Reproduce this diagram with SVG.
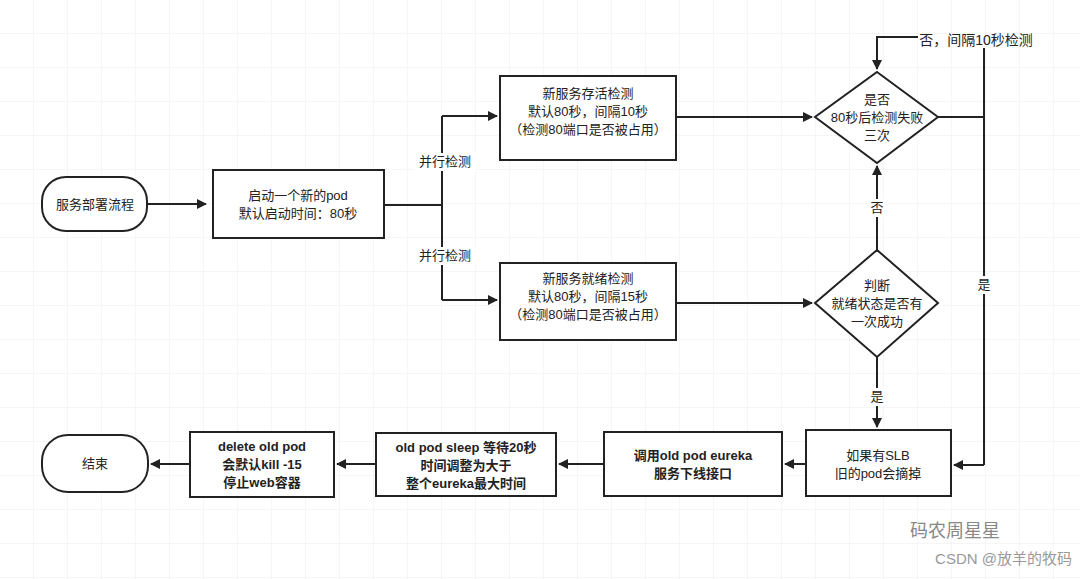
<svg xmlns="http://www.w3.org/2000/svg" width="1080" height="579" viewBox="0 0 1080 579">
<defs>
<pattern id="grid" width="34" height="34" patternUnits="userSpaceOnUse"><path d="M34 0V34H0" fill="none" stroke="#ececec" stroke-width="1"/></pattern>
<marker id="ar" viewBox="0 0 10 10" refX="9" refY="5" markerWidth="5" markerHeight="5" orient="auto"><path d="M0 0L10 5L0 10z" fill="#222"/></marker>
</defs>
<style>
.n{fill:#fff;stroke:#222;stroke-width:2}
.t{font-family:"Liberation Sans","Noto Sans CJK SC",sans-serif;font-size:13px;fill:#222;text-anchor:middle}
.b{font-weight:bold}
.c{fill:none;stroke:#222;stroke-width:2}
.a{marker-end:url(#ar)}
.l{font-family:"Liberation Sans","Noto Sans CJK SC",sans-serif;font-size:13px;fill:#222;text-anchor:middle}
</style>
<rect width="1080" height="579" fill="#fff"/>
<rect width="1080" height="579" fill="url(#grid)"/>
<g id="connectors">
<path class="c a" d="M147 204H206"/>
<path class="c" d="M384 205H442M442 116V300"/>
<path class="c a" d="M442 116H497"/>
<path class="c a" d="M442 300H497"/>
<path class="c a" d="M676 117H812"/>
<path class="c a" d="M676 303H812"/>
<path class="c a" d="M877 250V166"/>
<path class="c a" d="M877 357V427"/>
<path class="c" d="M938 117H984M984 48V465"/>
<path class="c a" d="M984 465H954"/>
<path class="c a" d="M918 37H877V69"/>
<path class="c a" d="M806 464H785"/>
<path class="c a" d="M604 464H559"/>
<path class="c a" d="M376 464H337"/>
<path class="c a" d="M190 464H151"/>
<rect x="414" y="153" width="62" height="18" fill="#fff"/>
<text class="l" x="445" y="166">并行检测</text>
<rect x="414" y="247" width="62" height="18" fill="#fff"/>
<text class="l" x="445" y="260">并行检测</text>
<rect x="868" y="199" width="18" height="18" fill="#fff"/>
<text class="l" x="877" y="212">否</text>
<rect x="868" y="388" width="18" height="18" fill="#fff"/>
<text class="l" x="877" y="401">是</text>
<rect x="975" y="276" width="18" height="18" fill="#fff"/>
<text class="l" x="984" y="289">是</text>
<text class="l" x="976" y="45" style="font-size:14px">否，间隔10秒检测</text>
</g>
<g id="start"><rect class="n" x="42" y="177" width="105" height="54" rx="24"/><text class="t" x="95" y="209">服务部署流程</text></g>
<g id="newpod"><rect class="n" x="213" y="170" width="171" height="68"/><text class="t" x="298" y="200">启动一个新的pod</text><text class="t" x="298" y="218">默认启动时间：80秒</text></g>
<g id="live"><rect class="n" x="500" y="76" width="176" height="84"/><text class="t" x="588" y="98">新服务存活检测</text><text class="t" x="588" y="116">默认80秒，间隔10秒</text><text class="t" x="588" y="134">（检测80端口是否被占用）</text></g>
<g id="ready"><rect class="n" x="500" y="263" width="176" height="77"/><text class="t" x="588" y="283">新服务就绪检测</text><text class="t" x="588" y="301">默认80秒，间隔15秒</text><text class="t" x="588" y="319">（检测80端口是否被占用）</text></g>
<g id="d1"><path class="n" d="M877 72L938 117L877 163L815 117Z"/><text class="t" x="877" y="104">是否</text><text class="t" x="877" y="122">80秒后检测失败</text><text class="t" x="877" y="140">三次</text></g>
<g id="d2"><path class="n" d="M877 250L938 303L877 357L815 303Z"/><text class="t" x="877" y="290">判断</text><text class="t" x="877" y="308">就绪状态是否有</text><text class="t" x="877" y="326">一次成功</text></g>
<g id="slb"><rect class="n" x="806" y="430" width="145" height="66"/><text class="t" x="878" y="460">如果有SLB</text><text class="t" x="878" y="478">旧的pod会摘掉</text></g>
<g id="eureka"><rect class="n" x="604" y="432" width="178" height="64"/><text class="t b" x="693" y="460">调用old pod eureka</text><text class="t b" x="693" y="478">服务下线接口</text></g>
<g id="sleep"><rect class="n" x="376" y="433" width="180" height="63"/><text class="t b" x="466" y="452">old pod sleep 等待20秒</text><text class="t b" x="466" y="470">时间调整为大于</text><text class="t b" x="466" y="488">整个eureka最大时间</text></g>
<g id="delete"><rect class="n" x="190" y="432" width="144" height="65"/><text class="t b" x="262" y="451">delete old pod</text><text class="t b" x="262" y="469">会默认kill -15</text><text class="t b" x="262" y="487">停止web容器</text></g>
<g id="end"><rect class="n" x="42" y="435" width="106" height="57" rx="26"/><text class="t" x="95" y="468">结束</text></g>
<g id="watermark"><text x="910" y="537" style="font-family:'Noto Sans CJK SC',sans-serif;font-size:18px;fill:#888">码农周星星</text><text x="1072" y="564" style="font-family:'Liberation Sans','Noto Sans CJK SC',sans-serif;font-size:15px;fill:#999;text-anchor:end">CSDN @放羊的牧码</text></g>
</svg>
